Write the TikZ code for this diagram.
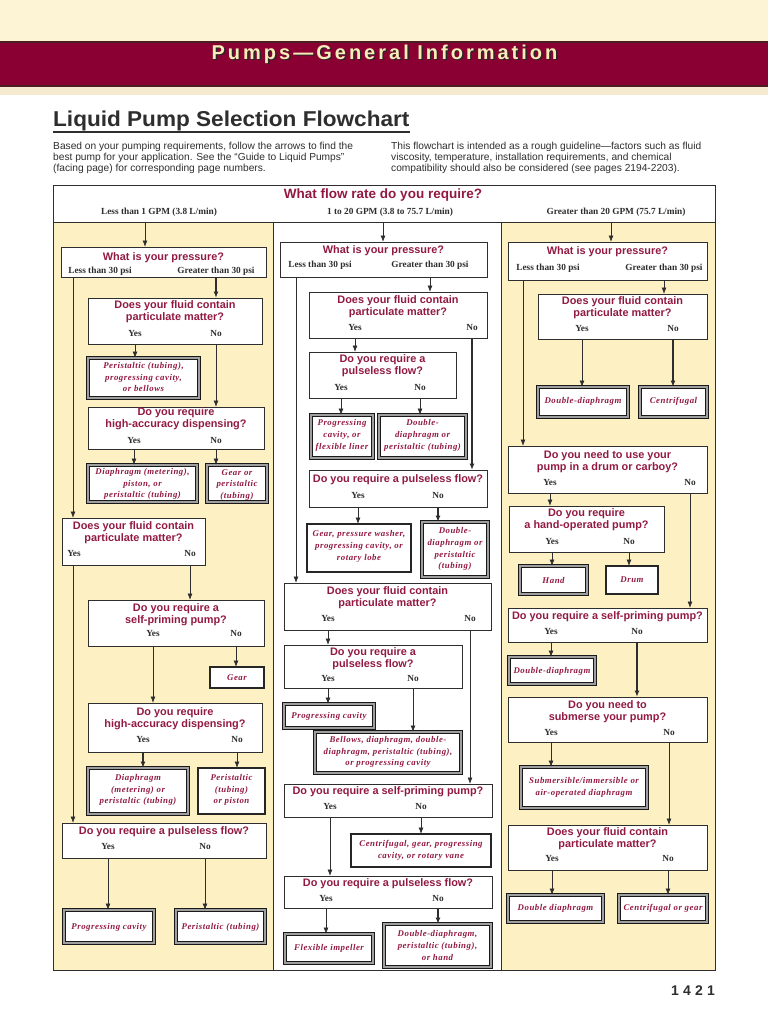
\documentclass[tikz,border=0pt]{standalone}
\usepackage{fontspec}
\setmainfont{Liberation Serif}
\newfontfamily\sansf{Liberation Sans}
\newfontfamily\bandf[LetterSpace=15]{Liberation Sans}
\newfontfamily\titlef[FakeStretch=1.05]{Liberation Sans}
\newfontfamily\numf[LetterSpace=30]{Liberation Sans}
\newfontfamily\resf[LetterSpace=6]{Liberation Serif}
\usetikzlibrary{arrows.meta}
\definecolor{topcream}{HTML}{FDF3D5}
\definecolor{cream}{HTML}{FDF0C3}
\definecolor{bandred}{HTML}{8B0033}
\definecolor{bandedge}{HTML}{4A1E22}
\definecolor{stripe}{HTML}{F5EAD0}
\definecolor{bandtext}{HTML}{FBEBB8}
\definecolor{qred}{HTML}{921A42}
\definecolor{ink}{HTML}{2E2E2E}
\tikzset{
  qbox/.style={draw=ink, fill=white, line width=0.8pt, inner sep=0pt, outer sep=0pt},
  rbox/.style={draw=black!90, fill=white, line width=0.95pt, double=gray!75, double distance=1.2pt, inner sep=0pt, outer sep=0pt},
  tbox/.style={draw=black!85, fill=white, line width=1.9pt, inner sep=0pt, outer sep=0pt},
  cfill/.style={draw=ink, fill=cream, line width=0.9pt, inner sep=0pt, outer sep=0pt},
  wfill/.style={draw=ink, fill=white, line width=0.9pt, inner sep=0pt, outer sep=0pt},
  qtxt/.style={text=qred, font=\sansf\bfseries\fontsize{10.9}{12}\selectfont, align=center, inner sep=0pt},
  ltxt/.style={text=ink, font=\bfseries\fontsize{9.3}{11}\selectfont, inner sep=0pt},
  rtxt/.style={text=qred, font=\resf\bfseries\itshape\fontsize{8.8}{11.8}\selectfont, align=center, inner sep=0pt},
  arr/.style={draw=ink, line width=0.75pt, -{Latex[length=6.5pt,width=5pt]}},
  tarr/.style={arr, line width=1.5pt},
}
\newcommand\mkbox[6]{\node[#1, minimum width={(#5)-(#3)}, minimum height={(#6)-(#4)}] (#2) at ({((#3)+(#5))/2},{((#4)+(#6))/2}) {};}
\newcommand\mkq[7]{\mkbox{qbox}{#1}{#2}{#3}{#4}{#5}\node[qtxt] (#1t) at ({((#2)+(#4))/2},#6) {#7};}
\newcommand\mkr[8]{\mkbox{#1}{#2}{#3}{#4}{#5}{#6}\node[rtxt] (#2t) at ({((#3)+(#5))/2},#7) {#8};}
\begin{document}
\begin{tikzpicture}[x=1pt,y=-1pt]
\useasboundingbox (0,0) rectangle (768,1024);
\fill[white] (0,0) rectangle (768,1024);
% band
\fill[topcream] (0,0) rectangle (768,41);
\fill[bandred] (0,41) rectangle (768,87);
\draw[bandedge, line width=2pt] (0,42) -- (768,42);
\draw[bandedge, line width=2pt] (0,86) -- (768,86);
\fill[stripe] (0,87) rectangle (768,95);
\node[font=\bandf\bfseries\fontsize{20}{22}\selectfont, text=black!85, inner sep=0] (bts) at (386,55.5) {Pumps—General Information};
\node[font=\bandf\bfseries\fontsize{20}{22}\selectfont, text=bandtext, inner sep=0] (bt) at (384.5,54) {Pumps—General Information};
% title
\node[anchor=west, font=\titlef\bfseries\fontsize{21.5}{24}\selectfont, text=ink, inner sep=0] (ttl) at (53,121) {Liquid Pump Selection Flowchart};
\draw[ink, line width=1.6pt] ([yshift=-1pt]ttl.south west) -- ([yshift=-1pt]ttl.south east);
\node[anchor=north west, align=left, font=\sansf\fontsize{10.2}{11}\selectfont, text=ink, inner sep=0] (introL) at (53,142) {Based on your pumping requirements, follow the arrows to find the\\best pump for your application. See the “Guide to Liquid Pumps”\\(facing page) for corresponding page numbers.};
\node[anchor=north west, align=left, font=\sansf\fontsize{10.2}{11}\selectfont, text=ink, inner sep=0] (introR) at (391,142) {This flowchart is intended as a rough guideline—factors such as fluid\\viscosity, temperature, installation requirements, and chemical\\compatibility should also be considered (see pages 2194-2203).};
% frame
\mkbox{cfill}{colL}{53}{222}{273}{970}
\mkbox{wfill}{colM}{273}{222}{501}{970}
\mkbox{cfill}{colR}{501}{222}{715}{970}
\mkbox{wfill}{hd}{53}{185}{715}{222}
\node[qtxt, font=\sansf\bfseries\fontsize{13.5}{15}\selectfont] (hdq) at (383,195) {What flow rate do you require?};
\node[ltxt] (hda) at (159,212) {Less than 1 GPM (3.8 L/min)};
\node[ltxt] (hdb) at (390,212) {1 to 20 GPM (3.8 to 75.7 L/min)};
\node[ltxt] (hdc) at (616,212) {Greater than 20 GPM (75.7 L/min)};
\coordinate (c1) at (145,0);
\coordinate (c2) at (383,0);
\coordinate (c3) at (611,0);
\coordinate (lx) at (73,0);
\coordinate (mx) at (296,0);
\coordinate (rx) at (523,0);
% LEFT
\mkq{p1}{61}{247}{266}{277}{258}{What is your pressure?}
\node[ltxt] (p1a) at (100,271) {Less than 30 psi};
\node[ltxt] (p1b) at (216,271) {Greater than 30 psi};
\mkq{q1}{88}{298}{262}{344}{312}{Does your fluid contain\\particulate matter?}
\node[ltxt] (q1y) at (135,333) {Yes};
\node[ltxt] (q1n) at (216,333) {No};
\mkr{rbox}{r1}{88}{358}{199}{398}{377}{Peristaltic (tubing),\\progressing cavity,\\or bellows}
\mkq{q2}{88}{407}{264}{449}{419}{Do you require\\high-accuracy dispensing?}
\node[ltxt] (q2y) at (134,440) {Yes};
\node[ltxt] (q2n) at (216,440) {No};
\mkr{rbox}{r2}{88}{465}{197}{502}{484}{Diaphragm (metering),\\piston, or\\peristaltic (tubing)}
\mkr{rbox}{r3}{207}{465}{267}{502}{485}{Gear or\\peristaltic\\(tubing)}
\mkq{q3}{62}{518}{205}{565}{532.5}{Does your fluid contain\\particulate matter?}
\node[ltxt] (q3y) at (74,553) {Yes};
\node[ltxt] (q3n) at (190,553) {No};
\mkq{q4}{88}{600}{264}{646}{614.5}{Do you require a\\self-priming pump?}
\node[ltxt] (q4y) at (153,633) {Yes};
\node[ltxt] (q4n) at (236,633) {No};
\mkr{tbox}{r4}{210}{667}{264}{688}{677.5}{Gear}
\mkq{q5}{88}{703}{262}{752}{719}{Do you require\\high-accuracy dispensing?}
\node[ltxt] (q5y) at (143,739) {Yes};
\node[ltxt] (q5n) at (237,739) {No};
\mkr{rbox}{r5}{88}{768}{188}{814}{790}{Diaphragm\\(metering) or\\peristaltic (tubing)}
\mkr{tbox}{r6}{198}{768}{265}{814}{790}{Peristaltic\\(tubing)\\or piston}
\mkq{q6}{62}{823}{266}{858}{832}{Do you require a pulseless flow?}
\node[ltxt] (q6y) at (108,846) {Yes};
\node[ltxt] (q6n) at (205,846) {No};
\mkr{rbox}{r7}{64}{910}{154}{943}{927}{Progressing cavity}
\mkr{rbox}{r8}{176}{910}{265}{943}{927}{Peristaltic (tubing)}
\draw[arr] (hd.south -| c1) -- (p1.north -| c1);
\draw[arr] (p1.south -| lx) -- (q3.north -| lx);
\draw[tarr] (p1.south -| p1b) -- (q1.north -| p1b);
\draw[arr] (q1.south -| q1y) -- (r1.north -| q1y);
\draw[arr] (q1.south -| q1n) -- (q2.north -| q1n);
\draw[arr] (q2.south -| q2y) -- (r2.north -| q2y);
\draw[arr] (q2.south -| q2n) -- (r3.north -| q2n);
\draw[arr] (q3.south -| lx) -- (q6.north -| lx);
\draw[arr] (q3.south -| q3n) -- (q4.north -| q3n);
\draw[arr] (q4.south -| q4n) -- (r4.north -| q4n);
\draw[arr] (q4.south -| q4y) -- (q5.north -| q4y);
\draw[tarr] (q5.south -| q5y) -- (r5.north -| q5y);
\draw[arr] (q5.south -| q5n) -- (r6.north -| q5n);
\draw[arr] (q6.south -| q6y) -- (r7.north -| q6y);
\draw[arr] (q6.south -| q6n) -- (r8.north -| q6n);
% MIDDLE
\mkq{p2}{280}{242}{487}{277}{251}{What is your pressure?}
\node[ltxt] (p2a) at (320,265) {Less than 30 psi};
\node[ltxt] (p2b) at (430,265) {Greater than 30 psi};
\mkq{q7}{309}{292}{487}{338}{307}{Does your fluid contain\\particulate matter?}
\node[ltxt] (q7y) at (355,327) {Yes};
\node[ltxt] (q7n) at (472,327) {No};
\mkq{q8}{309}{352}{456}{398}{366}{Do you require a\\pulseless flow?}
\node[ltxt] (q8y) at (341,387) {Yes};
\node[ltxt] (q8n) at (420,387) {No};
\mkr{rbox}{r9}{311}{415}{373}{458}{435.5}{Progressing\\cavity, or\\flexible liner}
\mkr{rbox}{r10}{379}{415}{466}{458}{435.5}{Double-\\diaphragm or\\peristaltic (tubing)}
\mkq{q9}{309}{470}{487}{507}{480}{Do you require a pulseless flow?}
\node[ltxt] (q9y) at (358,495) {Yes};
\node[ltxt] (q9n) at (438,495) {No};
\mkr{tbox}{r11}{307}{524}{411}{572}{546.5}{Gear, pressure washer,\\progressing cavity, or\\rotary lobe}
\mkr{rbox}{r12}{422}{522}{488}{577}{549}{Double-\\diaphragm or\\peristaltic\\(tubing)}
\mkq{q10}{284}{583}{491}{630}{597.5}{Does your fluid contain\\particulate matter?}
\node[ltxt] (q10y) at (328,618) {Yes};
\node[ltxt] (q10n) at (470,618) {No};
\mkq{q11}{284}{645}{462}{688}{659}{Do you require a\\pulseless flow?}
\node[ltxt] (q11y) at (328,678) {Yes};
\node[ltxt] (q11n) at (413,678) {No};
\mkr{rbox}{r13}{284}{704}{374}{728}{716}{Progressing cavity}
\mkr{rbox}{r14}{315}{732}{461}{773}{752}{Bellows, diaphragm, double-\\diaphragm, peristaltic (tubing),\\or progressing cavity}
\mkq{q12}{284}{784}{492}{817}{792}{Do you require a self-priming pump?}
\node[ltxt] (q12y) at (330,806) {Yes};
\node[ltxt] (q12n) at (421,806) {No};
\mkr{tbox}{r15}{351}{834}{491}{867}{850}{Centrifugal, gear, progressing\\cavity, or rotary vane}
\mkq{q13}{284}{876}{492}{908}{884}{Do you require a pulseless flow?}
\node[ltxt] (q13y) at (326,898) {Yes};
\node[ltxt] (q13n) at (438,898) {No};
\mkr{rbox}{r16}{285}{934}{373}{963}{948}{Flexible impeller}
\mkr{rbox}{r17}{384}{924}{491}{967}{945.5}{Double-diaphragm,\\peristaltic (tubing),\\or hand}
\draw[arr] (hd.south -| c2) -- (p2.north -| c2);
\draw[arr] (p2.south -| mx) -- (q10.north -| mx);
\draw[arr] (p2.south -| p2b) -- (q7.north -| p2b);
\draw[arr] (q7.south -| q7y) -- (q8.north -| q7y);
\draw[tarr] (q7.south -| q7n) -- (q9.north -| q7n);
\draw[arr] (q8.south -| q8y) -- (r9.north -| q8y);
\draw[arr] (q8.south -| q8n) -- (r10.north -| q8n);
\draw[arr] (q9.south -| q9y) -- (r11.north -| q9y);
\draw[tarr] (q9.south -| q9n) -- (r12.north -| q9n);
\draw[arr] (q10.south -| q10y) -- (q11.north -| q10y);
\draw[arr] (q10.south -| q10n) -- (q12.north -| q10n);
\draw[arr] (q11.south -| q11y) -- (r13.north -| q11y);
\draw[arr] (q11.south -| q11n) -- (r14.north -| q11n);
\draw[arr] (q12.south -| q12n) -- (r15.north -| q12n);
\draw[arr] (q12.south -| q12y) -- (q13.north -| q12y);
\draw[arr] (q13.south -| q13y) -- (r16.north -| q13y);
\draw[tarr] (q13.south -| q13n) -- (r17.north -| q13n);
% RIGHT
\mkq{p3}{508}{242}{707}{280}{252}{What is your pressure?}
\node[ltxt] (p3a) at (548,268) {Less than 30 psi};
\node[ltxt] (p3b) at (664,268) {Greater than 30 psi};
\mkq{q14}{538}{294}{707}{339}{308}{Does your fluid contain\\particulate matter?}
\node[ltxt] (q14y) at (582,328) {Yes};
\node[ltxt] (q14n) at (673,328) {No};
\mkr{rbox}{r18}{538}{387}{628}{417}{401}{Double-diaphragm}
\mkr{rbox}{r19}{640}{387}{707}{417}{401}{Centrifugal}
\mkq{q15}{508}{446}{707}{493}{461.5}{Do you need to use your\\pump in a drum or carboy?}
\node[ltxt] (q15y) at (550,482) {Yes};
\node[ltxt] (q15n) at (690,482) {No};
\mkq{q16}{509}{506}{664}{552}{520}{Do you require\\a hand-operated pump?}
\node[ltxt] (q16y) at (552,541) {Yes};
\node[ltxt] (q16n) at (629,541) {No};
\mkr{rbox}{r20}{520}{566}{587}{594}{580}{Hand}
\mkr{tbox}{r21}{606}{566}{658}{594}{580}{Drum}
\mkq{q17}{508}{608}{707}{642}{617}{Do you require a self-priming pump?}
\node[ltxt] (q17y) at (551,631) {Yes};
\node[ltxt] (q17n) at (637,631) {No};
\mkr{rbox}{r22}{509}{657}{595}{684}{671}{Double-diaphragm}
\mkq{q18}{508}{697}{707}{742}{711.5}{Do you need to\\submerse your pump?}
\node[ltxt] (q18y) at (551,732) {Yes};
\node[ltxt] (q18n) at (669,732) {No};
\mkr{rbox}{r23}{521}{767}{647}{808}{787}{Submersible/immersible or\\air-operated diaphragm}
\mkq{q19}{508}{825}{707}{870}{838.5}{Does your fluid contain\\particulate matter?}
\node[ltxt] (q19y) at (552,858) {Yes};
\node[ltxt] (q19n) at (668,858) {No};
\mkr{rbox}{r24}{508}{895}{603}{922}{908}{Double diaphragm}
\mkr{rbox}{r25}{619}{895}{707}{922}{908}{Centrifugal or gear}
\draw[arr] (hd.south -| c3) -- (p3.north -| c3);
\draw[arr] (p3.south -| rx) -- (q15.north -| rx);
\draw[arr] (p3.south -| p3b) -- (q14.north -| p3b);
\draw[arr] (q14.south -| q14y) -- (r18.north -| q14y);
\draw[tarr] (q14.south -| q14n) -- (r19.north -| q14n);
\draw[arr] (q15.south -| q15y) -- (q16.north -| q15y);
\draw[arr] (q15.south -| q15n) -- (q17.north -| q15n);
\draw[arr] (q16.south -| q16y) -- (r20.north -| q16y);
\draw[arr] (q16.south -| q16n) -- (r21.north -| q16n);
\draw[arr] (q17.south -| q17y) -- (r22.north -| q17y);
\draw[tarr] (q17.south -| q17n) -- (q18.north -| q17n);
\draw[arr] (q18.south -| q18y) -- (r23.north -| q18y);
\draw[arr] (q18.south -| q18n) -- (q19.north -| q18n);
\draw[arr] (q19.south -| q19y) -- (r24.north -| q19y);
\draw[arr] (q19.south -| q19n) -- (r25.north -| q19n);
\node[font=\numf\bfseries\fontsize{14}{16}\selectfont, text=ink, inner sep=0] (pg) at (693,991) {1421};
\end{tikzpicture}
\end{document}
